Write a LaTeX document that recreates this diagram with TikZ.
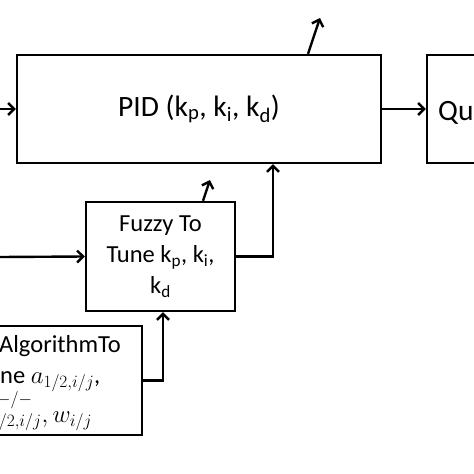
\documentclass[tikz,border=0pt]{standalone}
\usepackage{fontspec}
\setmainfont{Carlito}
\usepackage{tikz}
\usetikzlibrary{arrows.meta,positioning,calc}
\tikzset{
  blk/.style={draw=black, line width=2.4pt, inner sep=0pt, align=center},
  flow/.style={-{Straight Barb[length=6pt,width=12pt]}, line width=2.4pt},
  big/.style={font=\fontsize{29.5}{36}\selectfont},
  mid/.style={font=\fontsize{24.5}{31}\selectfont},
}
\newcommand{\sbs}[1]{\textsubscript{#1}}

\begin{document}
\begin{tikzpicture}[x=1pt, y=-1pt]
\clip (0,0) rectangle (474,474);
\fill[white] (0,0) rectangle (474,474);

% ------------------------- blocks ---------------------------------------
\node[blk, big, minimum width=364pt, minimum height=108pt] at (199,109) (pid)
   {PID (k\sbs{p}, k\sbs{i}, k\sbs{d})};
\node[blk, big, minimum width=120pt, minimum height=108pt] at (487,109) (qua) {};
\node[big, anchor=base west, inner sep=0pt] at (438,120) (qualbl) {Qua};
\node[blk, mid, minimum width=149pt, minimum height=109pt] at (160.5,256.5) (fuzzy)
   {Fuzzy To\\Tune k\sbs{p}, k\sbs{i},\\k\sbs{d}};
\node[blk, minimum width=202pt, minimum height=109pt] at (41,380.5) (algo) {};
\node[mid, anchor=base west, inner sep=0pt] at (-1,352) (algoa) {AlgorithmTo};
\node[mid, anchor=base west, inner sep=0pt] at (0,383) (algob)
   {ne $a_{1/2,i/j}$,};
\node[mid, anchor=base west, inner sep=0pt] at (-3,404) (algoc)
   {\fontsize{16}{16}\selectfont $-/-$};
\node[mid, anchor=base west, inner sep=0pt] at (-22,422) (algod)
   {$a_{1/2,i/j}, w_{i/j}$};

% ------------------------- loose ends -----------------------------------
\coordinate (in1) at (0,109);
\coordinate (in2) at (0,257);
\coordinate (up1) at (320,18);
\coordinate (up2) at (210,180);

% ------------------------- connectors -----------------------------------
\draw[flow] (in1) -- (pid.west);
\draw[flow] (pid.east) -- (qua.west);
\draw[flow] ([xshift=109pt]pid.north) -- (up1);
\draw[flow] (in2) -- (fuzzy.west);
\draw[flow] (fuzzy.east) -| ([xshift=74pt]pid.south);
\draw[flow] ([xshift=42.5pt]fuzzy.north) -- (up2);
\draw[flow] (algo.east) -| ([xshift=2.5pt]fuzzy.south);
\end{tikzpicture}
\end{document}
